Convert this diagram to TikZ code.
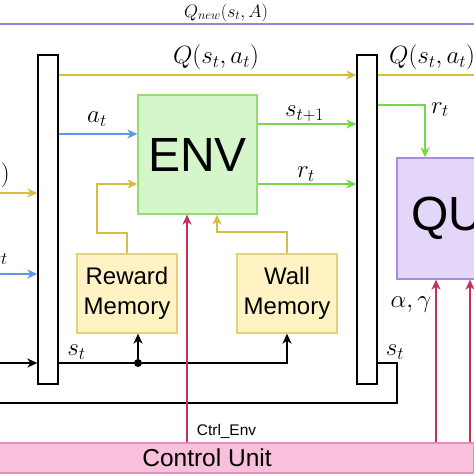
\RequirePackage{fix-cm}
\documentclass[tikz,border=0pt]{standalone}
\usepackage{fontspec}
\setmainfont{Liberation Sans}
\usetikzlibrary{arrows.meta}
\definecolor{ylw}{HTML}{D6BE3E}
\definecolor{ylwfill}{HTML}{FFF3C4}
\definecolor{ylwdraw}{HTML}{E3D27A}
\definecolor{grn}{HTML}{74D94A}
\definecolor{grnfill}{HTML}{D5F6CB}
\definecolor{grndraw}{HTML}{96DA74}
\definecolor{blu}{HTML}{5E9BE6}
\definecolor{redc}{HTML}{C2305C}
\definecolor{pinkfill}{HTML}{F9C0DC}
\definecolor{pinkdraw}{HTML}{E98CB9}
\definecolor{purfill}{HTML}{E3D6F8}
\definecolor{purdraw}{HTML}{A98BE0}
\definecolor{purline}{HTML}{9B7FD8}
\begin{document}
\begin{tikzpicture}[x=1pt,y=-1pt,
  bar/.style={draw=black, line width=1.3pt, fill=white, minimum width=20pt, minimum height=329pt, inner sep=0pt},
  membox/.style={draw=ylwdraw, line width=1.3pt, fill=ylwfill, minimum width=100pt, minimum height=79pt, align=center, font=\fontsize{24}{30}\selectfont, inner sep=0pt},
  envbox/.style={draw=grndraw, line width=1.3pt, fill=grnfill, minimum width=119pt, minimum height=119pt, font=\fontsize{48}{56}\selectfont, inner sep=0pt},
  qubox/.style={draw=purdraw, line width=1.3pt, fill=purfill, minimum width=100pt, minimum height=121pt, font=\fontsize{48}{56}\selectfont, inner sep=0pt},
  cubox/.style={draw=pinkdraw, line width=1.3pt, fill=pinkfill, minimum width=534pt, minimum height=30pt, font=\fontsize{24.5}{28}\selectfont, inner sep=0pt},
  tip/.style={-{Stealth[length=10pt,width=9pt,inset=3pt]}},
  wire/.style={line width=1.8pt},
  mlab/.style={font=\fontsize{25}{29}\selectfont, inner sep=0pt},
  slab/.style={font=\fontsize{18}{21}\selectfont, inner sep=0pt},
  dot/.style={circle, fill=black, minimum size=8pt, inner sep=0pt}
]
\useasboundingbox (0,0) rectangle (474,474);
\clip (0,0) rectangle (474,474);
\fill[white] (0,0) rectangle (474,474);

% boxes
\node[bar] (lbar) at (48,219.5) {};
\node[bar] (rbar) at (367,219.5) {};
\node[envbox] (env) at (197.5,154.5) {ENV};
\node[membox] (rew) at (127,293.5) {Reward\\Memory};
\node[membox] (wall) at (287,293.5) {Wall\\Memory};
\node[qubox] (qu) at (447,218.5) {QU};
\node[cubox] (cu) at (207,458) {Control Unit};

% free-end coordinates
\coordinate (pL) at (0,24);
\coordinate (pR) at (474,24);
\coordinate (yin) at (0,193);
\coordinate (bin) at (0,274);
\coordinate (kin) at (0,363);
\coordinate (qout) at (474,75);
\coordinate (sret) at (0,403);
\coordinate (dt) at (138,363);

% top purple line
\draw[purline, wire] (pL) -- (pR);
\node[slab] (qnew) at (226,12.5) {$Q_{new}(s_t,A)$};

% incoming from left
\draw[ylw, wire, tip] (yin) -- (lbar.west |- yin);
\draw[blu, wire, tip] (bin) -- (lbar.west |- bin);
\draw[black, wire, tip] (kin) -- (lbar.west |- kin);
\node[mlab, anchor=east] (lq) at (10,175) {$Q(s_t,a_t)$};
\node[mlab, anchor=east] (la) at (8,257) {$a_t$};

% Q(s_t,a_t) through
\draw[ylw, wire, tip] (lbar.east |- 0,75) -- (rbar.west |- 0,75);
\draw[ylw, wire] (rbar.east |- 0,75) -- (qout);
\node[mlab] (lq2) at (216,57.5) {$Q(s_t,a_t)$};
\node[mlab, anchor=west] (lq3) at (389,57.5) {$Q(s_t,a_t)$};

% a_t
\draw[blu, wire, tip] (lbar.east |- 0,134) -- (env.west |- 0,134);
\node[mlab] (lat) at (97,119) {$a_t$};

% memories to ENV
\draw[ylw, wire, tip] (rew.north) -- ++(0,-20) -| (97,184) -- (env.west |- 0,184);
\draw[ylw, wire, tip] (wall.north) -- ++(0,-21) -| (env.south -| 217,0);

% ENV outputs
\draw[grn, wire, tip] (env.east |- 0,124) -- (rbar.west |- 0,124);
\draw[grn, wire, tip] (env.east |- 0,184) -- (rbar.west |- 0,184);
\node[mlab] (lst1) at (304.5,114) {$s_{t+1}$};
\node[mlab] (lrt) at (306,174) {$r_t$};

% r_t to QU
\draw[grn, wire, tip] (rbar.east |- 0,105) -| (qu.north -| 425,0);
\node[mlab] (lrt2) at (440,109.5) {$r_t$};

% s_t
\draw[black, wire, tip] (lbar.east |- kin) -| (wall.south);
\node[dot] (d) at (dt) {};
\draw[black, wire, tip] (d) -- (rew.south -| d);
\node[mlab] (lst) at (76.5,352) {$s_t$};

\draw[black, wire] (rbar.east |- 0,363) -- (397,363) -- (397,403) -- (sret);
\node[mlab] (lst2) at (395,352) {$s_t$};

% control arrows
\draw[redc, wire, tip] (cu.north -| 187,0) -- (env.south -| 187,0);
\draw[redc, wire, tip] (cu.north -| 436,0) -- (qu.south -| 436,0);
\draw[redc, wire, tip] (cu.north -| 470,0) -- (qu.south -| 470,0);
\node[font=\fontsize{15.4}{18}\selectfont, inner sep=0pt, anchor=base] (lce) at (226.5,435) {Ctrl\_Env};
\node[mlab] (lag) at (411,305) {$\alpha,\gamma$};
\end{tikzpicture}
\end{document}
